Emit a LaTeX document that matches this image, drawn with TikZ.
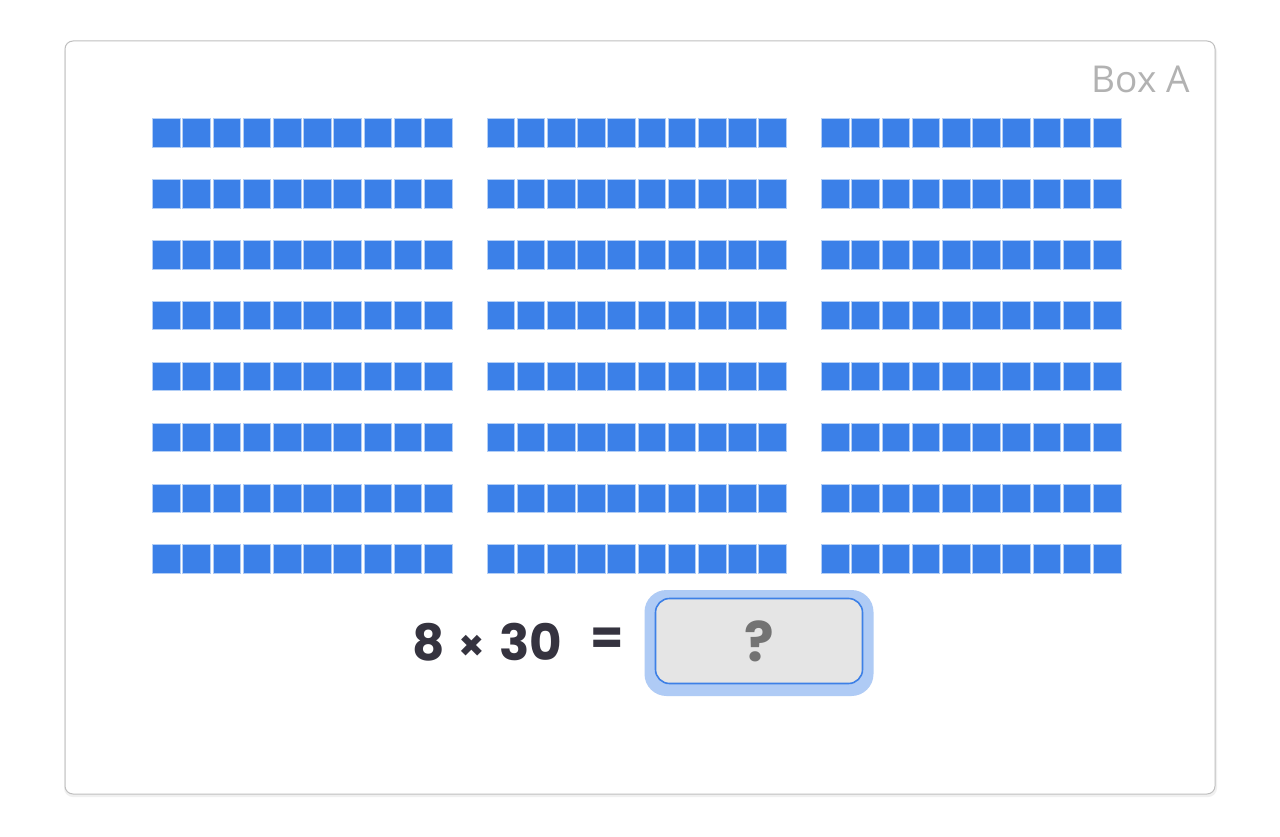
\documentclass[tikz,border=0pt]{standalone}
\usepackage{fontspec}
\setmainfont{Poppins}
\newfontfamily\labelfont{Open Sans}
\usetikzlibrary{positioning}

\definecolor{cubeblue}{HTML}{3B80E8}
\definecolor{cubeedge}{HTML}{B2CEF6}
\definecolor{halo}{HTML}{AFCBF5}
\definecolor{ansedge}{HTML}{3D80E6}
\definecolor{ansfill}{HTML}{E5E5E5}
\definecolor{eqtext}{HTML}{35333F}

\tikzset{
  cube/.style={fill=cubeblue, draw=cubeedge, line width=0.8pt},
  frame/.style={draw=black!25, line width=1pt, fill=white, rounded corners=8pt},
}

\begin{document}
\begin{tikzpicture}[x=1pt,y=-1pt]
\useasboundingbox (0,0) rectangle (1280,837);
\fill[white] (0,0) rectangle (1280,837);

% outer box
\fill[black!6, rounded corners=9pt] (64,43) rectangle (1217,797);
\draw[frame] (65,41) rectangle (1215,794);
\node[text=black!30, font=\labelfont\fontsize{37}{37}\selectfont, anchor=east] (boxname) at (1193,79) {Box A};

% rows of ten
\foreach \g in {0,1,2}
  \foreach \r in {0,...,7}
    \foreach \c in {0,...,9}
      \draw[cube] ({152.5+334.5*\g+30.2*\c},{118.5+60.9*\r}) rectangle ++(27.6,28.6);

% equation
\node[text=eqtext, font=\bfseries\fontsize{50}{50}\selectfont] (prod) at (487,642) {8\hspace{14pt}{\fontsize{42}{42}\selectfont×}\hspace{14pt}30};
\node[text=eqtext, font=\bfseries\fontsize{48}{48}\selectfont] (eq) at (607,641) {=};
\node[fill=halo, rounded corners=22pt, minimum width=229pt, minimum height=106pt] (glow) at (759,643) {};
\node[fill=ansfill, draw=ansedge, line width=1.6pt, rounded corners=14pt, minimum width=207pt, minimum height=85pt,
      text=black!55, font=\bfseries\fontsize{55}{55}\selectfont] (ans) at (759,641) {?};
\end{tikzpicture}
\end{document}
